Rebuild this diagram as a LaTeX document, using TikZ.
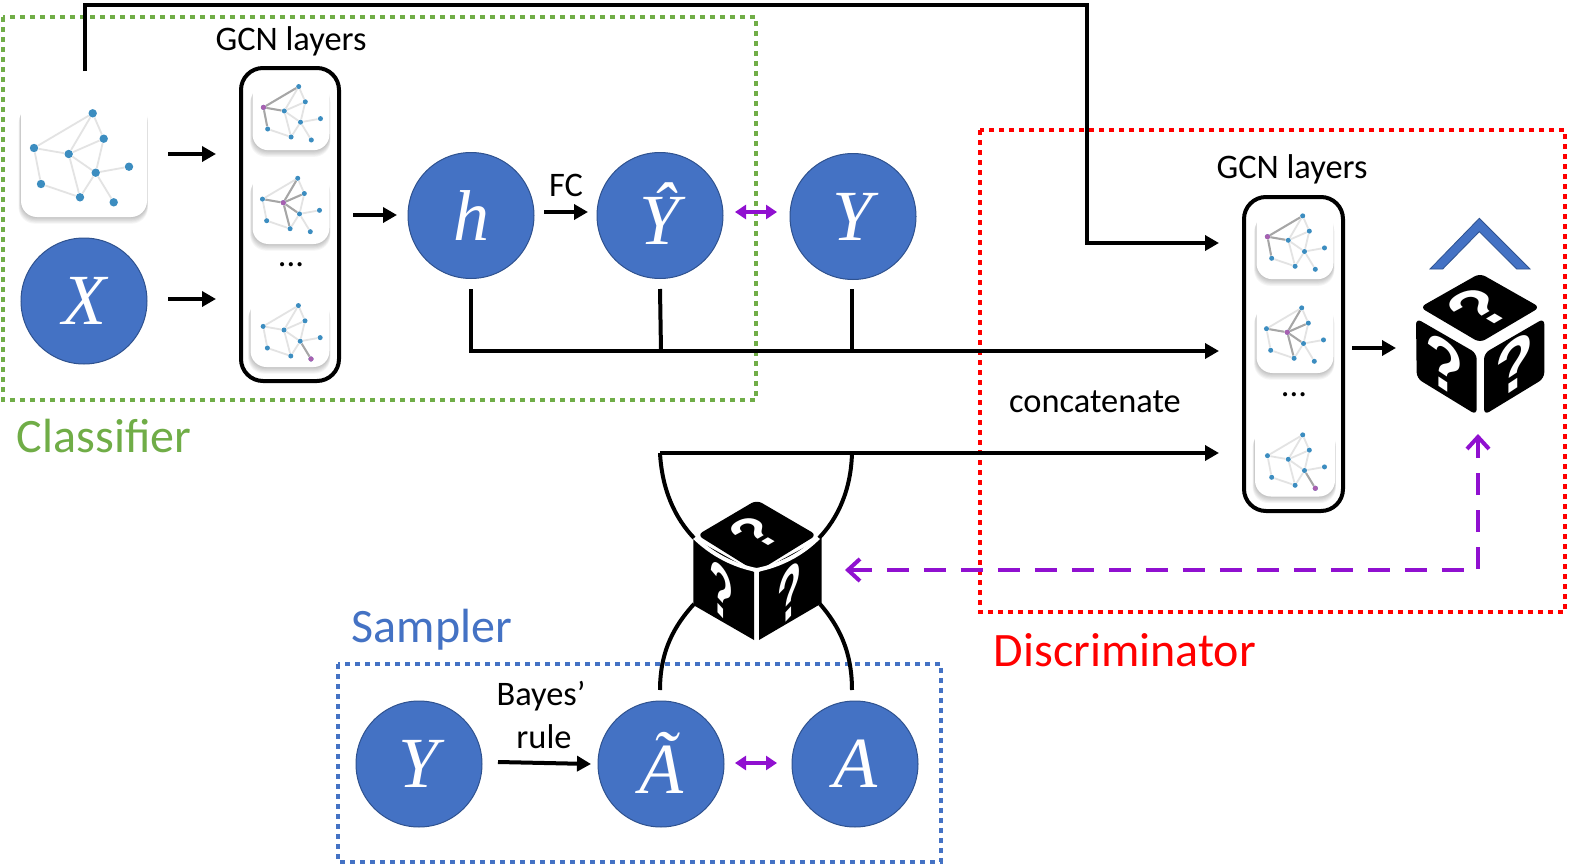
\documentclass[tikz,border=0pt]{standalone}
\usepackage{fontspec}
\setmainfont{Carlito}
\newfontfamily\letterfont{Liberation Serif}
\newfontfamily\diefont{Liberation Sans}
\usetikzlibrary{arrows.meta}
\definecolor{nodeblue}{HTML}{4472C4}
\definecolor{nodeedge}{HTML}{2F528F}
\definecolor{clsgreen}{HTML}{70AD47}
\definecolor{purp}{HTML}{9010D0}
\definecolor{dotblue}{HTML}{3C8DC0}
\definecolor{dotpurple}{HTML}{A860B0}
\tikzset{
  x=0.5pt,y=-0.5pt,
  varnode/.style={circle,fill=nodeblue,draw=nodeedge,line width=.5pt,minimum size=63pt,inner sep=0pt,text=white,font=\letterfont\itshape\fontsize{36}{36}\selectfont},
  conn/.style={draw=black,line width=2pt,-{Triangle[length=7pt,width=7.5pt]}},
  wire/.style={draw=black,line width=2pt},
  pboth/.style={draw=purp,line width=2.2pt,{Triangle[length=5.5pt,width=7pt]}-{Triangle[length=5.5pt,width=7pt]}},
  pdash/.style={draw=purp,line width=2pt,dash pattern=on 11pt off 7.5pt,{Straight Barb[length=6pt,width=11pt,line width=2pt]}-{Straight Barb[length=6pt,width=11pt,line width=2pt]}},
  region/.style={line width=2.4pt,dash pattern=on 2.6pt off 2.4pt},
  stackbox/.style={draw=black,line width=2pt,rounded corners=11pt,fill=white},
  lbl/.style={inner sep=0pt,font=\fontsize{17.2}{19}\selectfont},
  biglbl/.style={inner sep=0pt,font=\fontsize{24}{27}\selectfont},
  gedge/.style={draw=black!11,line width=.9pt},
  gedgehi/.style={draw=black!35,line width=1pt},
  gdot/.style={circle,fill=dotblue,inner sep=0pt},
  qmark/.style={text=white,inner sep=0pt,font=\diefont\bfseries\fontsize{36}{36}\selectfont},
}
% name, card cx, cy, w, h, pivot x, pivot y, scale
\newcommand{\gcard}[8]{%
  \foreach \k in {1,...,6} {\fill[black,opacity=.04,rounded corners=8pt]
    ({#2-#4/2-\k*.4},{#3-#5/2+4+\k}) rectangle ({#2+#4/2+\k*.15},{#3+#5/2+\k*1.1});}
  \node[fill=white,rounded corners=8pt,inner sep=0pt,minimum width=#4*.5pt,minimum height=#5*.5pt] (#1card) at (#2,#3) {};
  \foreach \n/\ax/\ay in {a/24/-40.7,b/35/-15.3,c/-34.7/-6,d/0/0,e/27/18.7,f/60.3/12.7,g/-27.7/30,h/11.3/43.3,i/45/48.3}
    \node[gdot,minimum size=4.2pt*#8] (#1\n) at ({#6+\ax*#8},{#7+\ay*#8}) {};
  \foreach \p/\q in {c/a,a/d,a/b,b/d,c/d,b/e,d/e,e/f,e/i,e/h,d/h,c/g,g/h}
    \draw[gedge] (#1\p) -- (#1\q);
}
% name, highlighted node, neighbours
\newcommand{\ghi}[3]{%
  \foreach \q in {#3} \draw[gedgehi] (#1#2) -- (#1\q);
  \node[circle,fill=dotpurple,inner sep=0pt,minimum size=2.6pt] (#1#2hi) at (#1#2) {};
}
\begin{document}
\begin{tikzpicture}
\useasboundingbox (0,0) rectangle (1571,867);
\fill[white] (0,0) rectangle (1571,867);
% regions
\draw[region,draw=clsgreen] (3,17) rectangle (756,400);
\draw[region,draw=red] (980,130) rectangle (1565,612);
\draw[region,draw=nodeblue] (338,664) rectangle (941,862);
\node[biglbl,text=clsgreen] (clslabel) at (104,436) {Classifier};
\node[biglbl,text=red] (dislabel) at (1125,650) {Discriminator};
\node[biglbl,text=nodeblue] (samlabel) at (432,630) {Sampler};
% input graph and X
\gcard{in}{84}{157}{126}{120}{68.7}{154}{1}
\node[varnode] (X) at (84,301) {X};
% left stack
\node[lbl] (gcnl) at (291,41) {GCN layers};
\draw[stackbox] (241,68) rectangle (339,381);
\gcard{la}{291}{113.7}{77}{73}{284.3}{111}{.6}\ghi{la}{c}{a,d,g}
\gcard{lb}{291}{206}{77}{76}{283.3}{202.7}{.6}\ghi{lb}{d}{a,b,c,e,h}
\gcard{lc}{290}{330}{79}{74}{284}{330}{.6}\ghi{lc}{i}{e}
\node[lbl] (ldots) at (291,265) {...};
% right stack
\node[lbl] (gcnr) at (1292,169) {GCN layers};
\draw[stackbox] (1244,197) rectangle (1343,511);
\gcard{ra}{1295}{242.7}{77}{73}{1288.3}{240.3}{.6}\ghi{ra}{c}{a,d,g}
\gcard{rb}{1295}{335.5}{77}{75}{1287.3}{332.3}{.6}\ghi{rb}{d}{a,b,c,e,h}
\gcard{rc}{1295}{459}{80}{75}{1288.3}{459.3}{.6}\ghi{rc}{i}{e}
\node[lbl] (rdots) at (1294,395) {...};
% variable circles
\node[varnode] (h) at (471,215.5) {h};
\node[varnode] (Yhat) at (660,215.5) {\raisebox{1.5pt}{Ŷ}};
\node[varnode] (Y) at (853,216.5) {Y};
\node[varnode] (Ys) at (419,764) {Y};
\node[varnode] (At) at (661,764) {\raisebox{1.5pt}{Ã}};
\node[varnode] (A) at (855,764) {A};
% junction coordinates
\coordinate (topstart) at (85,71);
\coordinate (topa) at (85,5);
\coordinate (topb) at (1087,5);
\coordinate (topc) at (1087,243);
\coordinate (topend) at (1219,243);
\coordinate (hbus) at (471,351);
\coordinate (Yhatbus) at (661,351);
\coordinate (Ybus) at (852,351);
\coordinate (hstart) at (471,289);
\coordinate (Yhatstart) at (660,289);
\coordinate (Ystart) at (852,289);
\coordinate (busend) at (1219,351);
\coordinate (lowa) at (660,453);
\coordinate (lowb) at (852,453);
\coordinate (lowend) at (1219,453);
% short arrows
\foreach \p/\q/\y in {168/216/154,168/216/299,353/397/215,544/588/212,1352/1396/348}
  \draw[conn] (\p,\y) -- (\q,\y);
\coordinate (bayesa) at (498,762);
\coordinate (bayesb) at (591,764);
\draw[conn] (bayesa) -- (bayesb);
\draw[pboth] (735,212) -- (777,212);
\draw[pboth] (735,763) -- (777,763);
% long wires
\draw[conn] (topstart) -- (topa) -- (topb) -- (topc) -- (topend);
\draw[conn] (hstart) -- (hbus) -- (busend);
\draw[wire] (Yhatstart) -- (Yhatbus);
\draw[wire] (Ystart) -- (Ybus);
\draw[conn] (lowa) -- (lowend);
% labels
\node[lbl] (fc) at (566,185) {FC};
\node[lbl] (cat) at (1095,402) {concatenate};
\node[lbl] (bay) at (541,696) {Bayes’};
\node[lbl] (rul) at (544,737) {rule};
% main die
\fill[nodeblue,draw=nodeedge,line width=.4pt] (1479.3,218.3) -- (1530,269) -- (1516.7,269) -- (1479.3,231.7) -- (1442.7,269) -- (1430,269) -- cycle;
\fill[black,rounded corners=3pt] (1480,273.3) -- (1540,307.3) -- (1480,342.7) -- (1420,307.3) -- cycle;
\fill[black,rounded corners=3pt] (1416,318.3) -- (1476.7,353.3) -- (1476.7,415) -- (1416.7,378.3) -- cycle;
\fill[black,rounded corners=3pt] (1484,353.3) -- (1544.3,318.3) -- (1544.3,378.3) -- (1484,415) -- cycle;
\node[qmark,cm={.85,.5,-.85,.5,(0,0)}] (q1) at (1479,308) {?};
\node[qmark,xscale=.87,yslant=-.577] (q2) at (1445,365) {?};
\node[qmark,xscale=.87,yslant=.577] (q3) at (1515,365) {?};
% small die and its arcs
\fill[black] (693.3,538) -- (754,572) -- (754,640) -- (693.3,605) -- cycle;
\fill[black] (759,572) -- (821.7,538) -- (821.7,603.3) -- (759,640) -- cycle;
\fill[black,rounded corners=3pt] (756.7,500) -- (816.7,535) -- (756.7,572) -- (697.3,535) -- cycle;
\draw[line width=2pt,white] (693,536) .. controls (712,555) and (735,566) .. (756.7,570) .. controls (778,566) and (802,555) .. (820,536);
\node[qmark,font=\diefont\bfseries\fontsize{30}{30}\selectfont,cm={.78,.46,-.85,.5,(0,0)}] (q4) at (755,533) {?};
\node[qmark,xscale=.55,yslant=-.6] (q5) at (722,592) {?};
\node[qmark,xscale=.55,yslant=.6] (q6) at (790,593) {?};
\draw[wire] (lowa) .. controls (662,490) and (675,518) .. (694,538);
\draw[wire] (lowb) .. controls (851,490) and (838,518) .. (819,538);
\coordinate (Atop) at (660,690);
\coordinate (Aop) at (852,690);
\draw[wire] (Atop) .. controls (660,650) and (675,625) .. (694,604);
\draw[wire] (Aop) .. controls (852,650) and (838,625) .. (820,604);
% dashed purple
\coordinate (pl) at (845,570);
\coordinate (pc) at (1478,570);
\coordinate (pt) at (1478,434);
\draw[pdash] (pl) -- (pc) -- (pt);
\end{tikzpicture}
\end{document}
